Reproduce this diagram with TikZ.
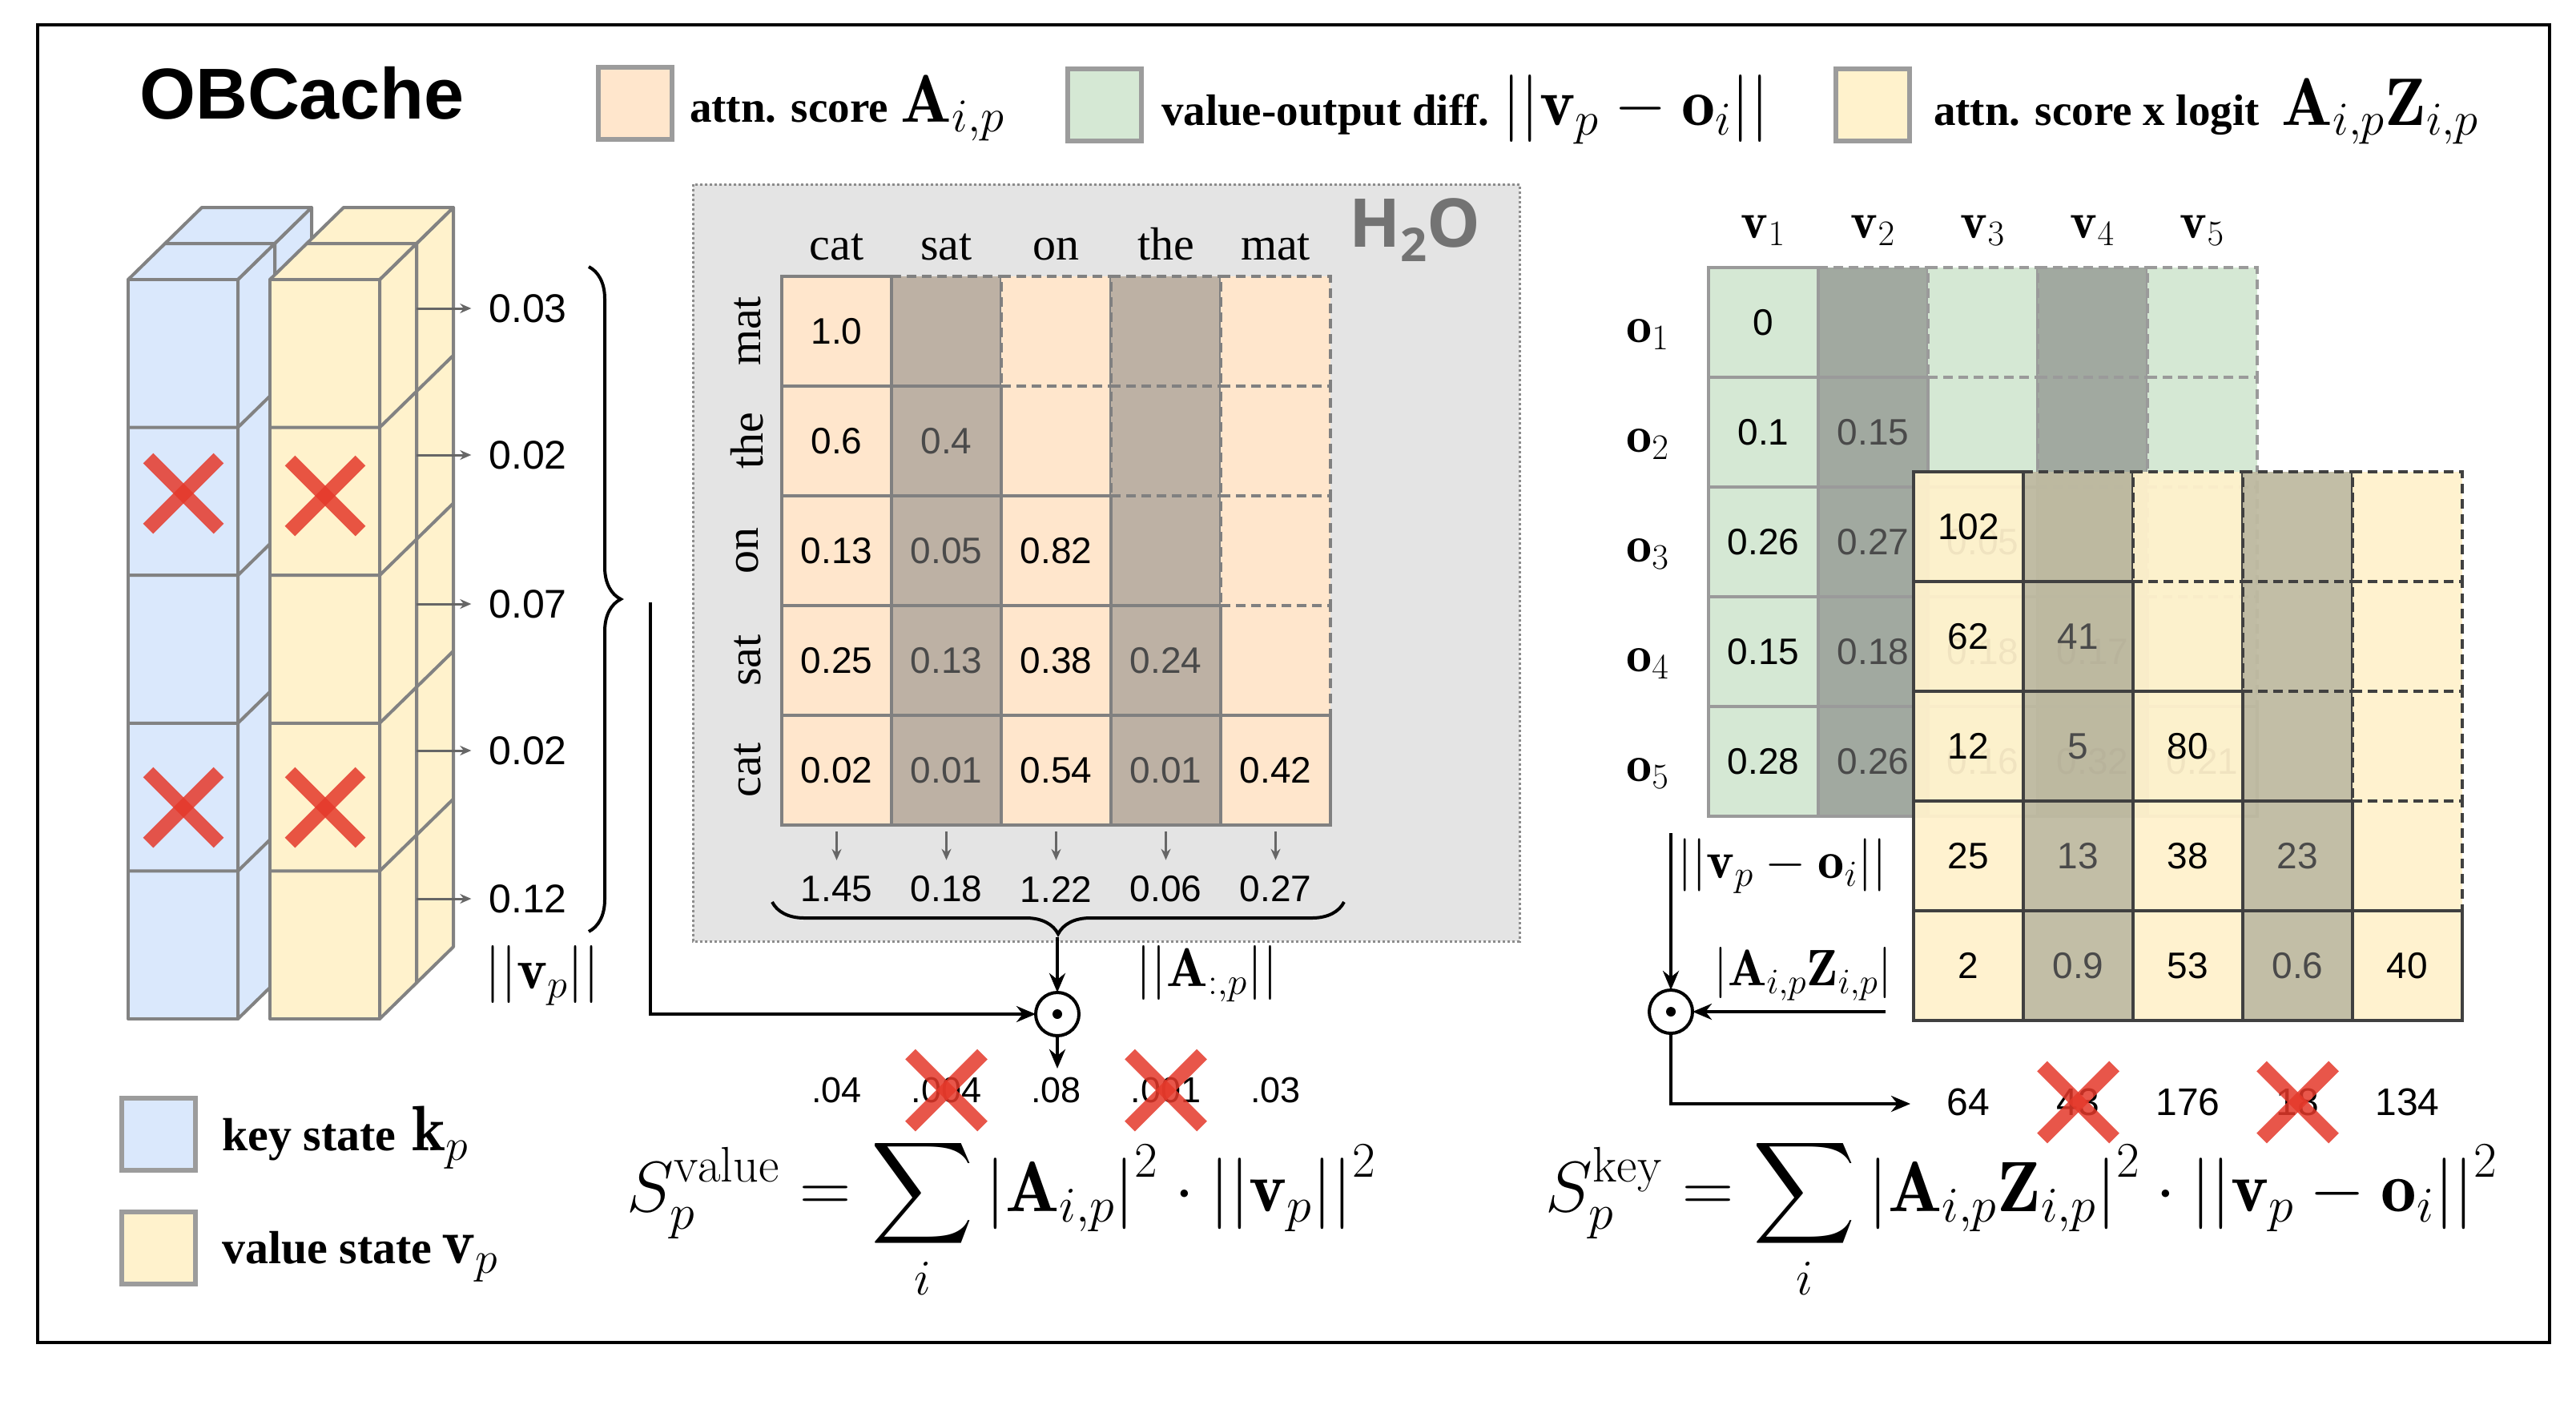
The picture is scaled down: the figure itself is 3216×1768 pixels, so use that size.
\RequirePackage{fix-cm}
\documentclass[tikz,border=0pt]{standalone}
\usepackage{fontspec}
\DeclareFontShape{OMX}{cmex}{m}{n}{<->cmex10}{}
\newfontfamily\sansf{Liberation Sans}
\newfontfamily\serf{Liberation Serif}
\newfontfamily\hfont{Open Sans}
\usetikzlibrary{arrows.meta,decorations.pathreplacing,calc}
\newcommand\fs[1]{\fontsize{#1}{#1}\selectfont}
\definecolor{peach}{HTML}{FFE6CC}
\definecolor{lgreen}{HTML}{D5E8D4}
\definecolor{lyellow}{HTML}{FFF2CC}
\definecolor{lblue}{HTML}{DAE8FC}
\definecolor{gpeach}{HTML}{BDB1A4}
\definecolor{ggreen}{HTML}{A1A9A0}
\definecolor{gyellow}{HTML}{BFBAA1}
\definecolor{bgray}{HTML}{808080}
\definecolor{grbord}{HTML}{9A9A9A}
\definecolor{ybord}{HTML}{404040}
\definecolor{cgray}{HTML}{828282}
\definecolor{lgray}{HTML}{9C9C9C}
\definecolor{arrgray}{HTML}{666666}
\definecolor{dtext}{HTML}{4A4A4A}
\definecolor{xred}{HTML}{E5392B}
\definecolor{hbox}{HTML}{E4E4E4}
\definecolor{hdot}{HTML}{8C8C8C}
\definecolor{htext}{HTML}{737373}
\tikzset{
  cellbase/.style={rectangle, minimum width=68.5pt, minimum height=68.5pt, inner sep=0pt, font=\sansf\fs{23}},
  cA/.style={cellbase, draw=bgray, line width=2pt},
  cG/.style={cellbase, draw=grbord, line width=1.6pt},
  cY/.style={cellbase, draw=ybord, line width=2pt, fill opacity=0.94, text opacity=1, draw opacity=1},
  dsh/.style={dash pattern=on 6pt off 3.5pt},
  arr/.style={line width=2pt, -{Stealth[length=12pt,width=10pt]}},
  garr/.style={draw=arrgray, line width=1.5pt, -{Stealth[length=7pt,width=6pt]}},
  xstroke/.style={draw=xred, line width=9pt, opacity=0.85},
  cubeline/.style={draw=cgray, line width=2pt, line join=round},
  legbox/.style={draw=lgray, line width=3pt, minimum width=46pt, minimum height=45pt},
  numA/.style={font=\sansf\fs{23}},
  numB/.style={font=\sansf\fs{24}},
  tok/.style={font=\serf\fs{29}},
  mlab/.style={font=\fs{32}},
  legtxt/.style={font=\serf\bfseries\fs{27.5}},
  odot/.style={circle, draw, line width=2pt, minimum size=27pt, inner sep=0pt},
}
\newcommand\redX[2]{\begin{scope}[shift={(#1)}]
  \draw[xstroke] (-#2,-#2)--(#2,#2);
  \draw[xstroke] (-#2,#2)--(#2,-#2);
\end{scope}}
\newcommand\kvcol[2]{\begin{scope}[shift={(#1,0)}]
  \filldraw[cubeline, fill=#2] (183,304)--(229,259)--(229,1182)--(183,1227)--cycle;
  \filldraw[cubeline, fill=#2] (46,304)--(183,304)--(229,259)--(92,259)--cycle;
  \filldraw[cubeline, fill=#2] (137,349)--(183,304)--(183,1227)--(137,1272)--cycle;
  \filldraw[cubeline, fill=#2] (0,349)--(137,349)--(183,304)--(46,304)--cycle;
  \filldraw[cubeline, fill=#2] (0,349) rectangle (137,1272);
  \foreach \k in {1,...,4}{
    \pgfmathsetmacro\yk{349+184.6*\k}
    \draw[cubeline] (0,\yk)--(137,\yk)--(183,\yk-45)--(229,\yk-90);
  }
\end{scope}}
\begin{document}
\begin{tikzpicture}[x=0.5pt,y=-0.5pt, every node/.style={inner sep=0pt, outer sep=0pt}]
\useasboundingbox (0,0) rectangle (3216,1768);
\fill[white] (0,0) rectangle (3216,1768);
\draw[line width=2pt] (47,31) rectangle (3183,1676);

% title
\node[anchor=base west, font=\sansf\bfseries\fs{45}] (title) at (174,148) {OBCache};

% top legend
\node[legbox, fill=peach] (lb1) at (793,129) {};
\node[anchor=base west, legtxt] (lt1) at (861,152) {attn. score\hspace{8pt}{\fs{42}$\mathbf{A}_{i,p}$}};
\node[legbox, fill=lgreen] (lb2) at (1379,131) {};
\node[anchor=base west, legtxt] (lt2) at (1450,156) {value-output diff.\hspace{8pt}{\fs{42}$\left|\left|\mathbf{v}_p-\mathbf{o}_i\right|\right|$}};
\node[legbox, fill=lyellow] (lb3) at (2338,131) {};
\node[anchor=base west, legtxt] (lt3) at (2414,156) {attn. score x logit\hspace{14pt}{\fs{42}$\mathbf{A}_{i,p}\mathbf{Z}_{i,p}$}};

% key / value columns
\kvcol{160}{lblue}
\kvcol{337}{lyellow}
\redX{229,616}{44}
\redX{406,619}{44}
\redX{229,1008}{44}
\redX{406,1008}{44}
\foreach \i/\y/\v in {1/385/0.03, 2/568/0.02, 3/754/0.07, 4/937/0.02, 5/1122/0.12}{
  \node[font=\sansf\fs{25}] (vn\i) at (659,\y) {\v};
  \coordinate (vs\i) at (520,\y);
  \draw[garr] (vs\i) -- ([xshift=-11pt]vn\i.west);
}
\node[font=\fs{36}] (vnorm) at (677,1218) {$||\mathbf{v}_p||$};
\coordinate (brT) at (735,333);
\coordinate (brB2) at (735,1163);
\draw[decorate, decoration={brace, amplitude=20pt}, line width=2pt] (brT) -- (brB2);

% bottom legend
\node[legbox, fill=lblue] (lb4) at (198,1416) {};
\node[anchor=base west, font=\serf\bfseries\fs{29}] (lt4) at (277,1436) {key state\hspace{10pt}{\fs{40}$\mathbf{k}_p$}};
\node[legbox, fill=lyellow] (lb5) at (198,1558) {};
\node[anchor=base west, font=\serf\bfseries\fs{29}] (lt5) at (277,1577) {value state\hspace{6pt}{\fs{40}$\mathbf{v}_p$}};

% H2O box
\draw[fill=hbox, draw=hdot, line width=1.5pt, dash pattern=on 1.5pt off 1.5pt] (865,230) rectangle (1897,1175);
\node[anchor=base west, font=\hfont\bfseries\fs{42}, text=htext] (h2o) at (1684,308) {H\raisebox{-9pt}{\fs{29}2}O};

% attention matrix
\foreach \c/\t in {0/cat,1/sat,2/on,3/the,4/mat}{
  \node[tok, anchor=base] (ct\c) at ({1044.5+137*\c},324) {\t};
}
\foreach \r/\t in {0/mat,1/the,2/on,3/sat,4/cat}{
  \node[tok, rotate=90] (rt\r) at (933,{413.5+137*\r}) {\t};
}
\foreach \r in {0,...,3}{
  \pgfmathtruncatemacro\cs{\r+1}
  \foreach \c in {\cs,...,4}{
    \ifodd\c\relax\def\fc{gpeach}\else\def\fc{peach}\fi
    \node[cA, dsh, fill=\fc] (A-\r-\c) at ({1044.5+137*\c},{413.5+137*\r}) {};
  }
}
\foreach \r/\c/\v in {0/0/1.0, 1/0/0.6, 1/1/0.4, 2/0/0.13, 2/1/0.05, 2/2/0.82, 3/0/0.25, 3/1/0.13, 3/2/0.38, 3/3/0.24, 4/0/0.02, 4/1/0.01, 4/2/0.54, 4/3/0.01, 4/4/0.42}{
  \ifodd\c\relax\def\fc{gpeach}\def\tc{dtext}\else\def\fc{peach}\def\tc{black}\fi
  \node[cA, fill=\fc, text=\tc] (A-\r-\c) at ({1044.5+137*\c},{413.5+137*\r}) {\v};
}
\foreach \c/\v in {0/1.45,1/0.18,2/1.22,3/0.06,4/0.27}{
  \node[numA] (s\c) at ({1044.5+137*\c},1110) {\v};
  \draw[garr] ([yshift=-4pt]A-4-\c.south) -- ([yshift=10pt]s\c.north);
}
\draw[decorate, decoration={brace, amplitude=20pt}, line width=2pt] (1678,1126) -- (964,1126);
\coordinate (brB) at (1320,1170);
\node[odot] (dot1) at (1320,1266) {};
\fill (dot1.center) circle[radius=3pt];
\draw[arr] (brB) -- (dot1.north);
\node[font=\fs{34}] (anorm) at (1507,1216) {$||\mathbf{A}_{:,p}||$};
\coordinate (lv) at (812,752);
\draw[arr] (lv) |- (dot1.west);
\coordinate (dv) at (1320,1334);
\draw[arr] (dot1.south) -- (dv);
\foreach \c/\v in {0/.04,1/.004,2/.08,3/.001,4/.03}{
  \node[font=\sansf\fs{22.5}] (bv\c) at ({1044.5+137*\c},1361) {\v};
}
\redX{bv1}{45}
\redX{bv3}{45}
\node[anchor=base, font=\fs{44.5}] (fval) at (1250,1512) {$\displaystyle S_p^{\mathrm{value}} = \sum_i \left|\mathbf{A}_{i,p}\right|^2 \cdot \left|\left|\mathbf{v}_p\right|\right|^2$};

% green matrix
\foreach \c in {0,...,4}{
  \pgfmathtruncatemacro\cn{\c+1}
  \node[mlab, anchor=base] (vl\c) at ({2201.5+137*\c},297) {$\mathbf{v}_{\cn}$};
  \node[mlab, anchor=base] (ol\c) at (2057,{427+137*\c}) {$\mathbf{o}_{\cn}$};
}
\foreach \r in {0,...,3}{
  \pgfmathtruncatemacro\cs{\r+1}
  \foreach \c in {\cs,...,4}{
    \ifodd\c\relax\def\fc{ggreen}\else\def\fc{lgreen}\fi
    \node[cG, dsh, fill=\fc] (G-\r-\c) at ({2201.5+137*\c},{402.5+137*\r}) {};
  }
}
\foreach \r/\c/\v in {0/0/0, 1/0/0.1, 1/1/0.15, 2/0/0.26, 2/1/0.27, 2/2/0.05, 3/0/0.15, 3/1/0.18, 3/2/0.18, 3/3/0.17, 4/0/0.28, 4/1/0.26, 4/2/0.16, 4/3/0.32, 4/4/0.21}{
  \ifodd\c\relax\def\fc{ggreen}\def\tc{dtext}\else\def\fc{lgreen}\def\tc{black}\fi
  \node[cG, fill=\fc, text=\tc] (G-\r-\c) at ({2201.5+137*\c},{402.5+137*\r}) {\v};
}

% yellow matrix
\foreach \r in {0,...,3}{
  \pgfmathtruncatemacro\cs{\r+1}
  \foreach \c in {\cs,...,4}{
    \ifodd\c\relax\def\fc{gyellow}\else\def\fc{lyellow}\fi
    \node[cY, dsh, fill=\fc] (Y-\r-\c) at ({2457.5+137*\c},{657.5+137*\r}) {};
  }
}
\foreach \r/\c/\v in {0/0/102, 1/0/62, 1/1/41, 2/0/12, 2/1/5, 2/2/80, 3/0/25, 3/1/13, 3/2/38, 3/3/23, 4/0/2, 4/1/0.9, 4/2/53, 4/3/0.6, 4/4/40}{
  \ifodd\c\relax\def\fc{gyellow}\def\tc{dtext}\else\def\fc{lyellow}\def\tc{black}\fi
  \node[cY, fill=\fc, text=\tc] (Y-\r-\c) at ({2457.5+137*\c},{657.5+137*\r}) {\v};
}

\node[font=\fs{33}] (vo) at (2225,1081) {$||\mathbf{v}_p-\mathbf{o}_i||$};
\node[font=\fs{32}] (az) at (2251,1216) {$|\mathbf{A}_{i,p}\mathbf{Z}_{i,p}|$};
\node[odot] (dot2) at (2086,1263) {};
\fill (dot2.center) circle[radius=3pt];
\coordinate (rv) at (2086,1040);
\draw[arr] (rv) -- (dot2.north);
\coordinate (rh) at (2354,1263);
\draw[arr] (rh) -- (dot2.east);
\coordinate (ko) at (2385,1378);
\draw[arr] (dot2.south) |- (ko);
\foreach \c/\v in {0/64,1/43,2/176,3/18,4/134}{
  \node[numB] (kv\c) at ({2457.5+137*\c},1376) {\v};
}
\redX{kv1}{45}
\redX{kv3}{45}
\node[anchor=base, font=\fs{44.5}] (fkey) at (2524,1512) {$\displaystyle S_p^{\mathrm{key}} = \sum_i \left|\mathbf{A}_{i,p}\mathbf{Z}_{i,p}\right|^2 \cdot \left|\left|\mathbf{v}_p-\mathbf{o}_i\right|\right|^2$};
\end{tikzpicture}
\end{document}
